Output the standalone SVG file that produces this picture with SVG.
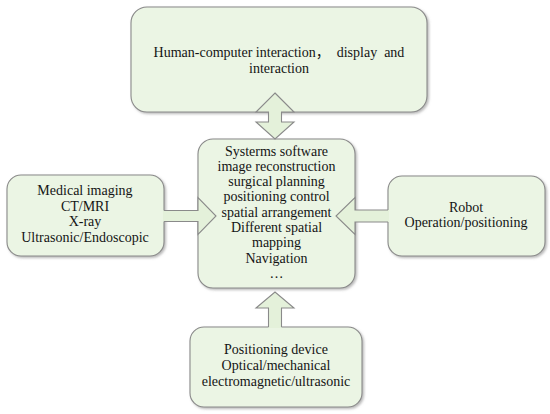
<svg xmlns="http://www.w3.org/2000/svg" width="550" height="414" viewBox="0 0 550 414">
<defs>
<filter id="sh" x="-10%" y="-10%" width="125%" height="125%">
<feDropShadow dx="1.5" dy="1.5" stdDeviation="1" flood-color="#808080" flood-opacity="0.55"/>
</filter>
</defs>
<style>
.box{fill:#EBF5E4;stroke:#8A8A8A;stroke-width:1.1;filter:url(#sh)}
.af{fill:#E4F1DA;stroke:none}
.ao{fill:none;stroke:#8A8A8A;stroke-width:1.1;stroke-linejoin:miter}
text{font-family:"Liberation Serif","DejaVu Serif","Noto Sans CJK SC",serif;font-size:14px;fill:#141414;text-anchor:middle}
</style>
<rect x="0" y="0" width="550" height="414" fill="#ffffff"/>
<g id="node-top">
<rect class="box" x="131" y="7" width="296" height="105" rx="16"/>
<text x="279" y="57" style="white-space:pre">Human-computer interaction，  display  and</text>
<text x="279" y="73">interaction</text>
</g>
<g id="node-center">
<rect class="box" x="198" y="139" width="157" height="149" rx="15"/>
<text x="276.5" y="155.5">Systerms software</text>
<text x="276.5" y="170.8">image reconstruction</text>
<text x="276.5" y="186.1">surgical planning</text>
<text x="276.5" y="201.4">positioning control</text>
<text x="276.5" y="216.7">spatial arrangement</text>
<text x="276.5" y="232">Different spatial</text>
<text x="276.5" y="247.3">mapping</text>
<text x="276.5" y="262.6">Navigation</text>
<text x="276.5" y="277.9">…</text>
</g>
<g id="node-left">
<rect class="box" x="7" y="175" width="157" height="81" rx="14"/>
<text x="85" y="195">Medical imaging</text>
<text x="85" y="210.5">CT/MRI</text>
<text x="85" y="226">X-ray</text>
<text x="85" y="241.5">Ultrasonic/Endoscopic</text>
</g>
<g id="node-right">
<rect class="box" x="388" y="176" width="157" height="80" rx="14"/>
<text x="466" y="212">Robot</text>
<text x="466" y="227">Operation/positioning</text>
</g>
<g id="node-bottom">
<rect class="box" x="190" y="327" width="172" height="80" rx="14"/>
<text x="276" y="354">Positioning device</text>
<text x="276" y="370">Optical/mechanical</text>
<text x="276" y="386">electromagnetic/ultrasonic</text>
</g>
<g id="connectors">
<polygon class="af" points="275,93 294,112 281.5,112 281.5,122 294,122 275,139 256,122 268.5,122 268.5,112 256,112"/>
<polygon class="ao" points="275,93 294,112 281.5,112 281.5,122 294,122 275,139 256,122 268.5,122 268.5,112 256,112"/>
<polygon class="af" points="163,210.5 198,210.5 198,197.5 216,216 198,234.5 198,221.5 163,221.5"/>
<polyline class="ao" points="164,210.5 198,210.5 198,197.5 216,216 198,234.5 198,221.5 164,221.5"/>
<polygon class="af" points="389,210 355,210 355,197.5 336,216 355,234.5 355,222 389,222"/>
<polyline class="ao" points="388,210 355,210 355,197.5 336,216 355,234.5 355,222 388,222"/>
<polygon class="af" points="268.5,328 268.5,308 256,308 275,292 294,308 281.5,308 281.5,328"/>
<polyline class="ao" points="268.5,327 268.5,308 256,308 275,292 294,308 281.5,308 281.5,327"/>
</g>
</svg>
